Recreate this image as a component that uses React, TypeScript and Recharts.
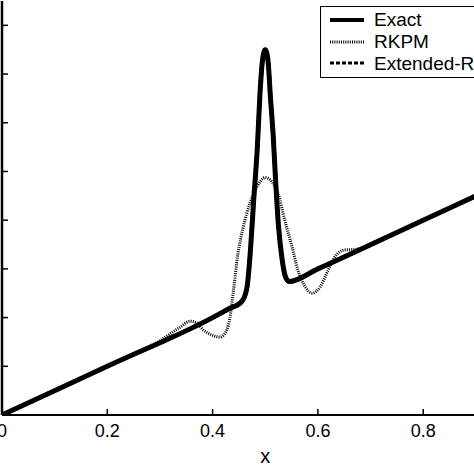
import { Legend, Line, LineChart, XAxis, YAxis } from 'recharts';

const X_TICKS = [0, 0.2, 0.4, 0.6, 0.8, 1];
const Y_TICKS = [0, 0.2, 0.4, 0.6, 0.8, 1, 1.2, 1.4, 1.6];

const EXACT_X = [0, 0.2, 0.4, 0.43, 0.455, 0.465, 0.472, 0.478, 0.485, 0.49, 0.495, 0.5, 0.505, 0.51, 0.515, 0.52, 0.525, 0.532, 0.538, 0.545, 0.6, 0.8, 1.0];
const EXACT_Y = [0, 0.2, 0.4, 0.435, 0.465, 0.52, 0.68, 0.88, 1.1, 1.32, 1.46, 1.5, 1.46, 1.3, 1.15, 0.95, 0.78, 0.64, 0.57, 0.548, 0.6, 0.8, 1.0];

const RKPM_X = [0, 0.1, 0.2, 0.26, 0.3, 0.338, 0.357, 0.37, 0.382, 0.399, 0.414, 0.427, 0.433, 0.439, 0.448, 0.458, 0.471, 0.484, 0.5, 0.513, 0.524, 0.537, 0.551, 0.562, 0.575, 0.589, 0.604, 0.617, 0.632, 0.651, 0.67, 0.686, 0.75, 0.85, 1.0];
const RKPM_Y = [0, 0.1, 0.2, 0.26, 0.305, 0.36, 0.385, 0.378, 0.35, 0.328, 0.32, 0.35, 0.4, 0.5, 0.66, 0.77, 0.87, 0.936, 0.975, 0.957, 0.912, 0.8, 0.69, 0.595, 0.53, 0.5, 0.525, 0.583, 0.649, 0.678, 0.68, 0.686, 0.75, 0.85, 1.0];

// extended-RKPM sits on top of the exact curve
const EXT_X = [0, 0.2, 0.4, 0.43, 0.455, 0.465, 0.472, 0.478, 0.485, 0.49, 0.495, 0.5, 0.505, 0.51, 0.515, 0.52, 0.525, 0.532, 0.538, 0.545, 0.6, 0.8, 1.0];
const EXT_Y = [0, 0.2, 0.4, 0.435, 0.465, 0.52, 0.68, 0.88, 1.1, 1.32, 1.46, 1.5, 1.46, 1.3, 1.15, 0.95, 0.78, 0.64, 0.57, 0.548, 0.6, 0.8, 1.0];

const SERIES = [
  { key: 'exact', name: 'Exact', xs: EXACT_X, ys: EXACT_Y, width: 5, dash: undefined, color: '#000' },
  { key: 'rkpm', name: 'RKPM', xs: RKPM_X, ys: RKPM_Y, width: 3, dash: '1 1.2', color: '#000' },
  { key: 'ext', name: 'Extended-RKPM', xs: EXT_X, ys: EXT_Y, width: 4, dash: '4 2', color: '#000' },
];

const FONT = '"Liberation Sans", Arial, sans-serif';

const BottomTick = ({ x, y, payload }: any) => (
  <g>
    <line x1={x} y1={y} x2={x} y2={y - 6} stroke="#000" strokeWidth={1.5} />
    <text x={x} y={y + 22} textAnchor="middle" fontSize={18} fill="#000" fontFamily={FONT}>
      {payload.value}
    </text>
  </g>
);

const TopTick = ({ x, y }: any) => (
  <line x1={x} y1={y} x2={x} y2={y + 6} stroke="#000" strokeWidth={1.5} />
);

const LeftTick = ({ x, y, payload }: any) => (
  <g>
    <line x1={x} y1={y} x2={x + 6} y2={y} stroke="#000" strokeWidth={1.5} />
    <text x={x - 6} y={y + 6} textAnchor="end" fontSize={18} fill="#000" fontFamily={FONT}>
      {payload.value}
    </text>
  </g>
);

const LegendBox = () => (
  <div
    style={{
      border: '1px solid #000',
      background: '#fff',
      padding: '2px 10px 3px 0',
      fontFamily: FONT,
      fontSize: 19,
      color: '#000',
    }}
  >
    {SERIES.map((s) => (
      <div key={s.key} style={{ display: 'flex', alignItems: 'center', height: 21.7 }}>
        <svg width={53} height={12} style={{ flexShrink: 0 }}>
          <line
            x1={9}
            y1={6}
            x2={43}
            y2={6}
            stroke={s.color}
            strokeWidth={s.key === 'exact' ? 4 : 3}
            strokeDasharray={s.dash}
          />
        </svg>
        <span style={{ whiteSpace: 'nowrap', lineHeight: '21px' }}>{s.name}</span>
      </div>
    ))}
  </div>
);

export default function App() {
  return (
    <div
      style={{
        position: 'fixed',
        left: 0,
        top: 0,
        width: 474,
        height: 474,
        overflow: 'hidden',
        background: '#fff',
        fontFamily: FONT,
      }}
    >
      <div style={{ position: 'absolute', left: -60, top: 0 }}>
        <LineChart width={620} height={474} margin={{ top: 1, right: 31.5, left: 2, bottom: 0 }}>
          <XAxis
            type="number"
            dataKey="x"
            domain={[0, 1]}
            ticks={X_TICKS}
            interval={0}
            height={59}
            tickSize={0}
            tickMargin={0}
            tickLine={false}
            tick={<BottomTick />}
            axisLine={{ stroke: '#000', strokeWidth: 2 }}
            allowDataOverflow
            label={{ value: 'x', position: 'insideBottom', offset: 11, fontSize: 20, fill: '#000' }}
          />
          <XAxis
            xAxisId="top"
            orientation="top"
            type="number"
            domain={[0, 1]}
            ticks={X_TICKS}
            interval={0}
            height={0}
            tickSize={0}
            tickMargin={0}
            tickLine={false}
            tick={<TopTick />}
            axisLine={{ stroke: '#555', strokeWidth: 2 }}
          />
          <YAxis
            type="number"
            domain={[0, 1.7]}
            ticks={Y_TICKS}
            interval={0}
            width={60}
            tickSize={0}
            tickMargin={0}
            tickLine={false}
            tick={<LeftTick />}
            axisLine={{ stroke: '#000', strokeWidth: 2.5 }}
            allowDataOverflow
          />
          <Legend
            layout="vertical"
            align="center"
            verticalAlign="middle"
            content={<LegendBox />}
            wrapperStyle={{ position: 'absolute', left: 380, top: 6, width: 'auto', height: 'auto' }}
          />
          {SERIES.map((s) => (
            <Line
              key={s.key}
              name={s.name}
              data={s.xs.map((x, i) => ({ x, y: s.ys[i] }))}
              dataKey="y"
              type="monotone"
              stroke={s.color}
              strokeWidth={s.width}
              strokeDasharray={s.dash}
              dot={false}
              activeDot={false}
              isAnimationActive={false}
            />
          ))}
        </LineChart>
      </div>
    </div>
  );
}
